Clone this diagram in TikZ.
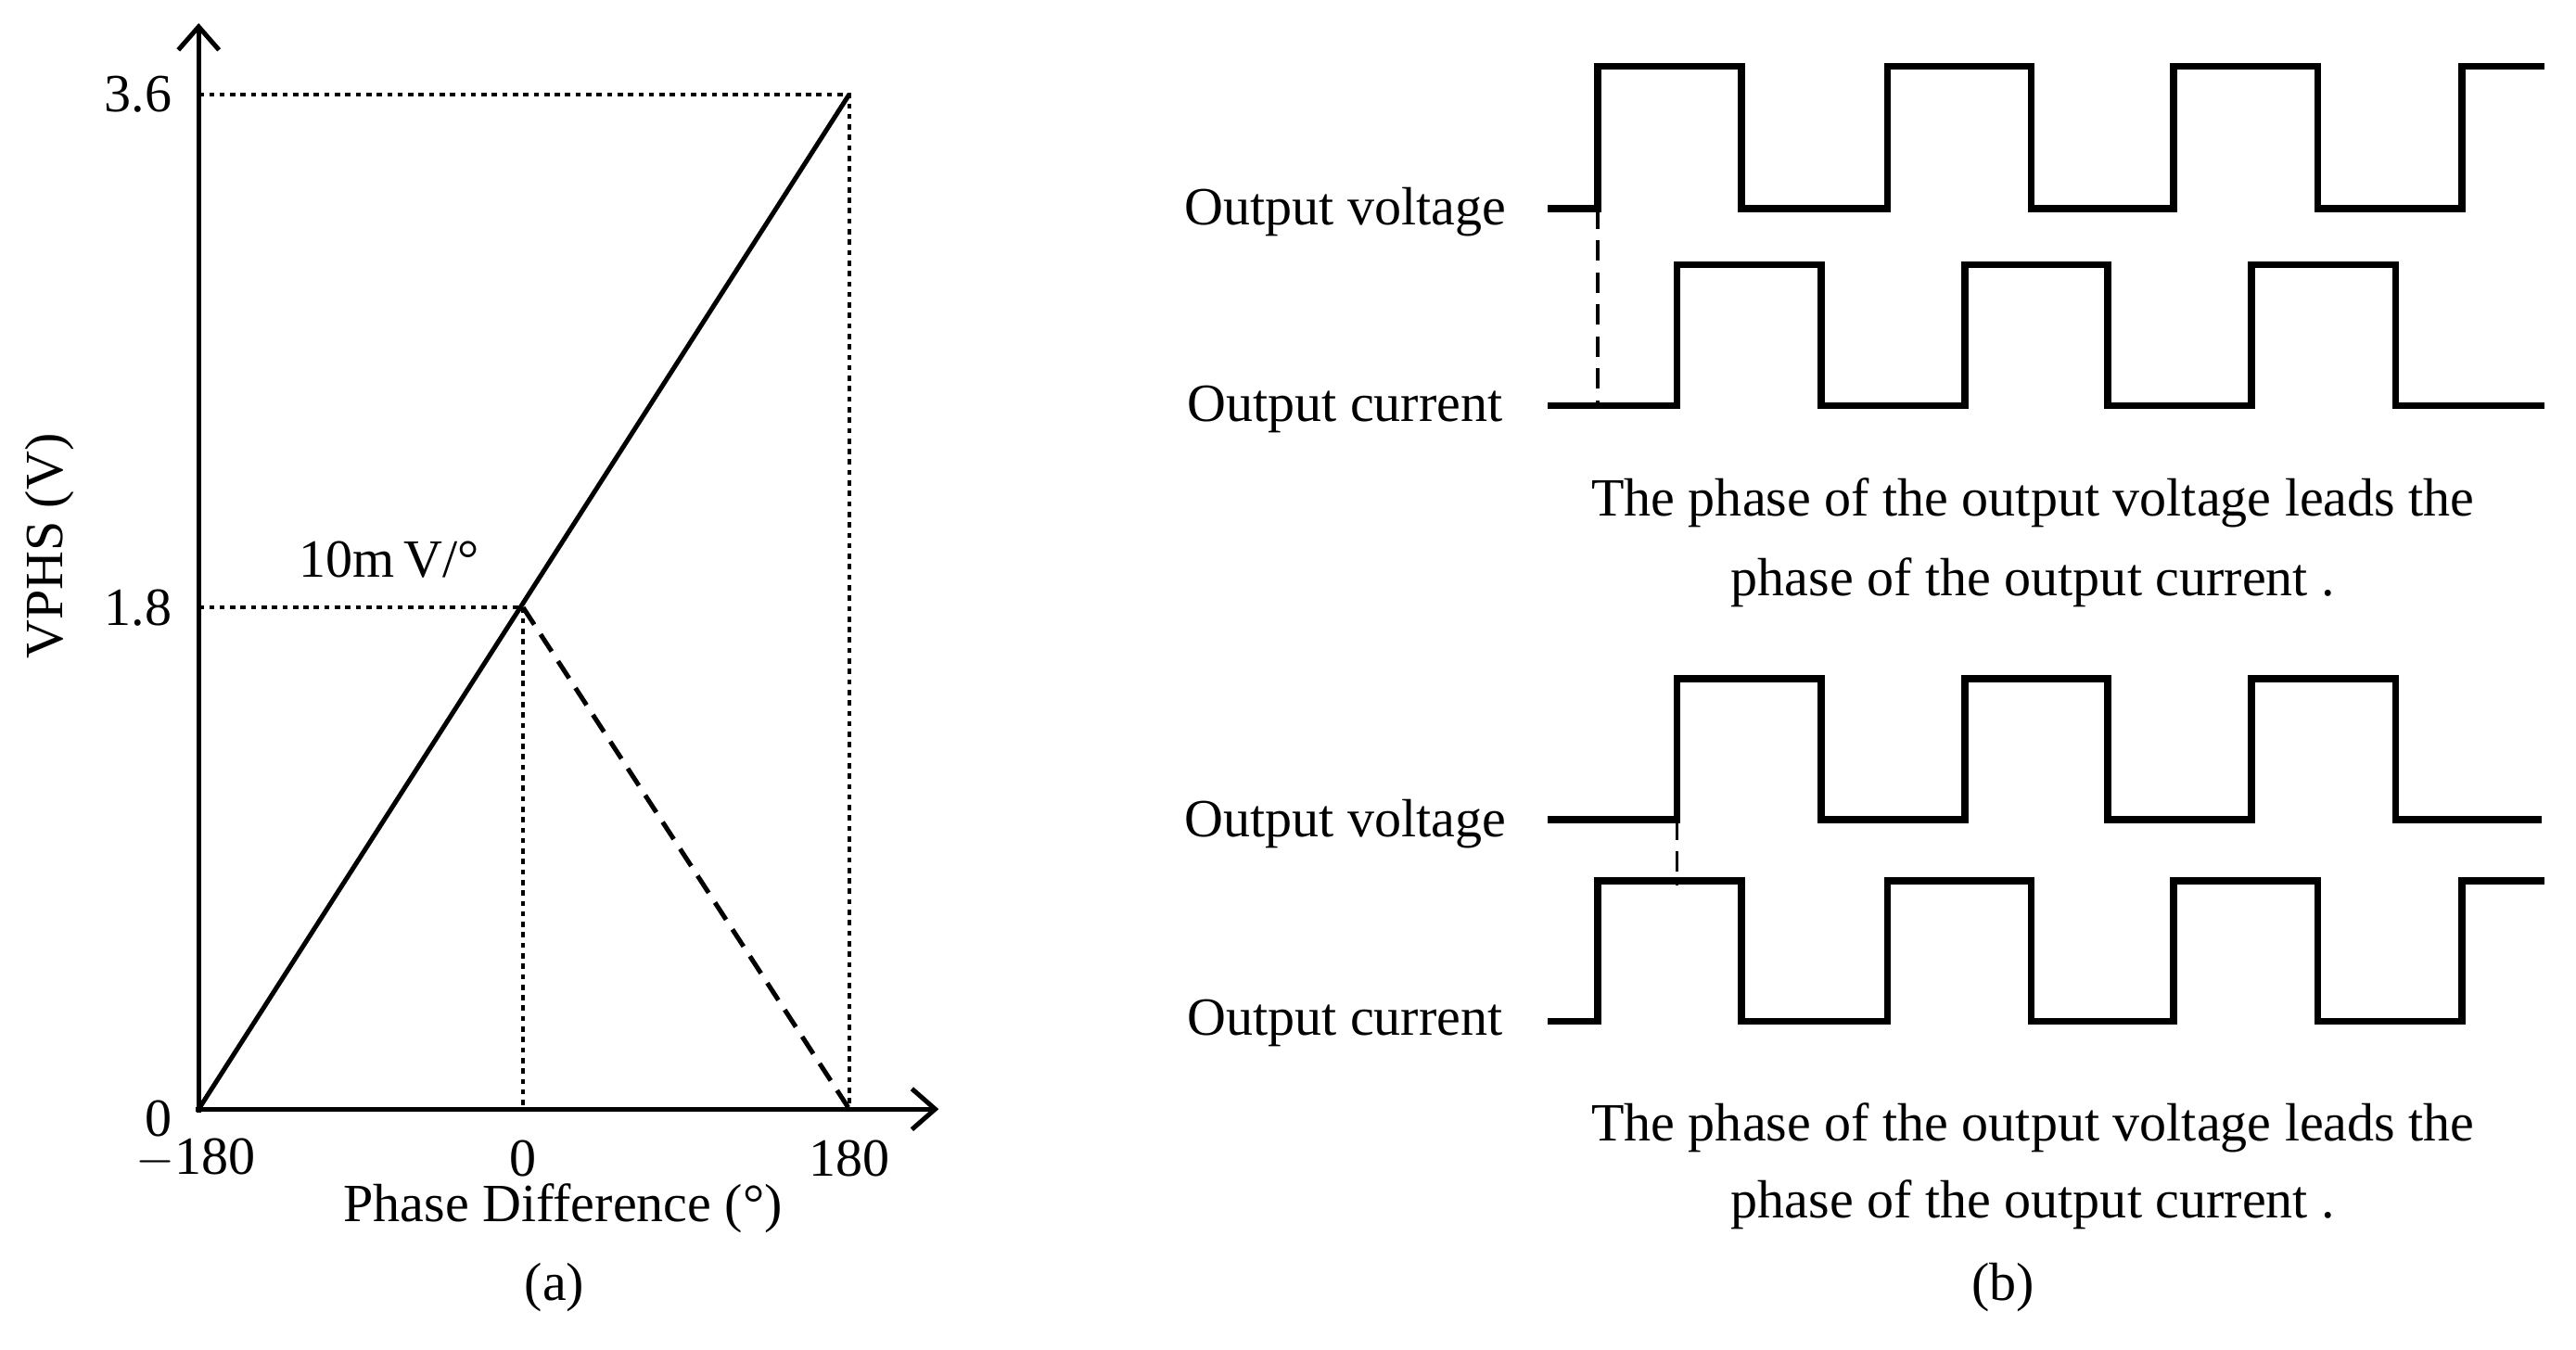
\documentclass[tikz,border=0pt]{standalone}
\usepackage{fontspec}
\setmainfont{Liberation Serif}
\usetikzlibrary{arrows.meta}
\begin{document}
\begin{tikzpicture}[x=0.02cm,y=-0.02cm,
  lbl/.style={font=\fontsize{18.5}{22}\selectfont,inner sep=0pt},
  ax/.style={line width=1.6pt,-{Straight Barb[length=8pt,width=14pt]}},
  wave/.style={line width=2.4pt},
  dot/.style={line width=1.4pt,dash pattern=on 1.8pt off 1.8pt},
  dsh/.style={line width=1.1pt,dash pattern=on 7pt off 4pt}]
\useasboundingbox (0,0) rectangle (1556,815);
% (a)
\coordinate (O) at (120,670);
\coordinate (P) at (513,57);
\coordinate (M) at (316,367);
\coordinate (E) at (513,670);
\coordinate (Y36) at (120,57);
\coordinate (Y18) at (120,367);
\coordinate (Z) at (316,670);
\draw[ax] (120,672) -- (120,14);
\draw[ax] (118,670) -- (567,670);
\draw[line width=1.6pt] (O) -- (P);
\draw[dsh,line width=1.6pt] (M) -- (E);
\draw[dot] (Y36) -- (P) -- (E);
\draw[dot] (Y18) -- (M) -- (Z);
\node[lbl,anchor=east] (l36) at (104,57) {3.6};
\node[lbl,anchor=east] (l18) at (104,367) {1.8};
\node[lbl,anchor=east] (l0) at (104,676) {0};
\node[lbl] (xm) at (118,700) {$-$180};
\node[lbl] (x0) at (316,700) {0};
\node[lbl] (x180) at (513,700) {180};
\node[lbl] (xl) at (340,730) {Phase Difference (°)};
\node[lbl] (ca) at (335,778) {(a)};
\node[lbl,rotate=90] (yl) at (30,330) {VPHS (V)};
\node[lbl] (sl) at (235,338) {10m\,V/°};
% (b) top
\draw[wave] (935,126) -- (965,126) -- (965,40) -- (1052,40) -- (1052,126) -- (1140,126) -- (1140,40) -- (1227,40) -- (1227,126) -- (1313,126) -- (1313,40) -- (1400,40) -- (1400,126) -- (1487,126) -- (1487,40) -- (1537,40);
\draw[wave] (935,245) -- (1013,245) -- (1013,160) -- (1100,160) -- (1100,245) -- (1187,245) -- (1187,160) -- (1273,160) -- (1273,245) -- (1360,245) -- (1360,160) -- (1447,160) -- (1447,245) -- (1537,245);
\draw[dsh] (965,126) -- (965,245);
\node[lbl,anchor=east] (v1) at (910,128) {Output voltage};
\node[lbl,anchor=east] (c1) at (908,247) {Output current};
\node[lbl] (t1) at (1228,304) {The phase of the output voltage leads the};
\node[lbl] (t2) at (1228,352) {phase of the output current .};
% (b) bottom
\draw[wave] (935,495) -- (1013,495) -- (1013,410) -- (1100,410) -- (1100,495) -- (1187,495) -- (1187,410) -- (1273,410) -- (1273,495) -- (1360,495) -- (1360,410) -- (1447,410) -- (1447,495) -- (1535,495);
\draw[wave] (935,617) -- (965,617) -- (965,532) -- (1052,532) -- (1052,617) -- (1140,617) -- (1140,532) -- (1227,532) -- (1227,617) -- (1313,617) -- (1313,532) -- (1400,532) -- (1400,617) -- (1487,617) -- (1487,532) -- (1537,532);
\draw[dsh] (1013,495) -- (1013,535);
\node[lbl,anchor=east] (v2) at (910,498) {Output voltage};
\node[lbl,anchor=east] (c2) at (908,618) {Output current};
\node[lbl] (t3) at (1228,681) {The phase of the output voltage leads the};
\node[lbl] (t4) at (1228,728) {phase of the output current .};
\node[lbl] (cb) at (1210,778) {(b)};
\end{tikzpicture}
\end{document}
